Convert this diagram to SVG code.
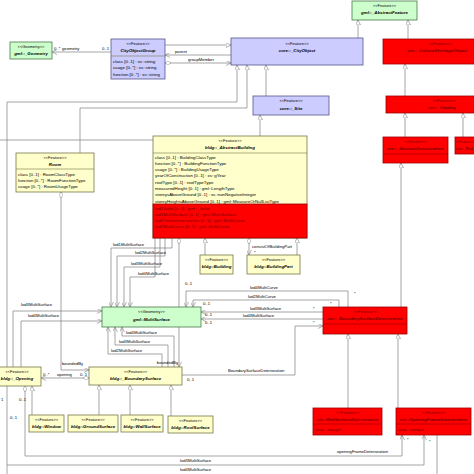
<svg xmlns="http://www.w3.org/2000/svg" width="474" height="474" viewBox="0 0 474 474">
<style>
.b{fill:#ccccff;stroke:#55558a;stroke-width:0.8}
.y{fill:#ffffcc;stroke:#77774a;stroke-width:0.8}
.g{fill:#ccffcc;stroke:#4a774a;stroke-width:0.8}
.r{fill:#ff0000;stroke:#990000;stroke-width:0.8}
.sep{stroke:#77774a;stroke-width:0.6}
.rsep{stroke:#990000;stroke-width:0.6}
text{font-family:"Liberation Sans",Arial,sans-serif}
.st{font-size:4px;text-anchor:middle;fill:#000}
.nm{font-size:4.4px;font-weight:bold;font-style:italic;text-anchor:middle;fill:#000}
.at{font-size:4.4px;fill:#000}
.rt{fill:#7a0000}
.lb{font-size:4.2px;fill:#000}
.ln{fill:none;stroke:#808080;stroke-width:0.7}
</style>
<defs>
<marker id="gen" viewBox="0 0 10 10" refX="10" refY="5" markerWidth="5" markerHeight="5" markerUnits="userSpaceOnUse" orient="auto"><path d="M0,0 L10,5 L0,10 Z" fill="#fff" stroke="#808080" stroke-width="1.2"/></marker>
<marker id="arr" viewBox="0 0 10 10" refX="10" refY="5" markerWidth="5" markerHeight="5" markerUnits="userSpaceOnUse" orient="auto"><path d="M0,0 L10,5 L0,10" fill="none" stroke="#808080" stroke-width="1.2"/></marker>
<marker id="dia" viewBox="0 0 12 8" refX="0" refY="4" markerWidth="6" markerHeight="4" markerUnits="userSpaceOnUse" orient="auto"><path d="M0,4 L6,0 L12,4 L6,8 Z" fill="#fff" stroke="#808080" stroke-width="1"/></marker>
</defs>

<g id="connectors">
<path class="ln" d="M358,38 V20" marker-end="url(#gen)"/>
<path class="ln" d="M408,39 V20" marker-end="url(#gen)"/>
<path class="ln" d="M405,96 V64" marker-end="url(#gen)"/>
<path class="ln" d="M405,137 V113" marker-end="url(#gen)"/>
<path class="ln" d="M463,137 V113" marker-end="url(#gen)"/>
<path class="ln" d="M401,307 V163" marker-end="url(#gen)"/>
<path class="ln" d="M348,408 V334" marker-end="url(#gen)"/>
<path class="ln" d="M398,408 V334" marker-end="url(#gen)"/>
<path class="ln" d="M266,96 V65" marker-end="url(#gen)"/>
<path class="ln" d="M260,136 V115" marker-end="url(#gen)"/>
<path class="ln" d="M7,367 V102 H237 V65" marker-end="url(#gen)"/>
<path class="ln" d="M80,153 V108 H247 V65" marker-end="url(#gen)"/>
<path class="ln" d="M205,255 V238" marker-end="url(#gen)"/>
<path class="ln" d="M297,255 V238" marker-end="url(#gen)"/>
<path class="ln" d="M32,415 V386" marker-end="url(#gen)"/>
<path class="ln" d="M99,415 V385" marker-end="url(#gen)"/>
<path class="ln" d="M130,415 V385" marker-end="url(#gen)"/>
<path class="ln" d="M171,416 V385" marker-end="url(#gen)"/>

<path class="ln" d="M111,52 H52" marker-end="url(#arr)"/>
<text class="lb" x="54" y="50">0..*</text>
<text class="lb" x="62" y="50">geometry</text>
<text class="lb" x="102" y="50">0..1</text>
<path class="ln" d="M165,45 H231" marker-end="url(#gen)"/>
<path class="ln" d="M231,55 H165" marker-end="url(#arr)"/>
<text class="lb" x="175" y="53">parent</text>
<path class="ln" d="M165,63 H231" marker-start="url(#dia)" marker-end="url(#arr)"/>
<text class="lb" x="188" y="61">groupMember</text>
<path class="ln" d="M0,140 H153"/>

<path class="ln" d="M172,238 V248 H111 V307" marker-end="url(#arr)"/>
<text class="lb" x="113" y="246">lod1MultiSurface</text>
<path class="ln" d="M165,238 V256 H117 V307" marker-end="url(#arr)"/>
<text class="lb" x="135" y="254">lod2MultiSurface</text>
<path class="ln" d="M160,238 V267 H124 V307" marker-end="url(#arr)"/>
<text class="lb" x="131" y="265">lod3MultiSurface</text>
<path class="ln" d="M155,238 V277 H130 V307" marker-end="url(#arr)"/>
<text class="lb" x="138" y="275">lod4MultiSurface</text>

<path class="ln" d="M174,367 V336 H122 V327" marker-end="url(#arr)"/>
<text class="lb" x="126" y="334">lod4MultiSurface</text>
<path class="ln" d="M168,367 V345 H115 V327" marker-end="url(#arr)"/>
<text class="lb" x="119" y="343">lod3MultiSurface</text>
<path class="ln" d="M162,367 V354 H108 V327" marker-end="url(#arr)"/>
<text class="lb" x="111" y="352">lod2MultiSurface</text>

<path class="ln" d="M13,367 V311 H102" marker-end="url(#arr)"/>
<text class="lb" x="21" y="306">lod3MultiSurface</text>
<path class="ln" d="M21,367 V321 H102" marker-end="url(#arr)"/>
<text class="lb" x="28" y="317">lod4MultiSurface</text>

<path class="ln" d="M61,192 V370 H89" marker-start="url(#dia)" marker-end="url(#arr)"/>
<text class="lb" x="62" y="365">boundedBy</text>
<path class="ln" d="M179,238 V367" marker-start="url(#dia)" marker-end="url(#arr)"/>
<text class="lb" x="178" y="364" text-anchor="end">boundedBy</text>
<path class="ln" d="M89,378 H41" marker-start="url(#dia)" marker-end="url(#arr)"/>
<text class="lb" x="43" y="376">0..*</text>
<text class="lb" x="57" y="376">opening</text>
<text class="lb" x="80" y="376">0..1</text>

<path class="ln" d="M249,238 V255" marker-start="url(#dia)" marker-end="url(#arr)"/>
<text class="lb" x="252" y="248">consistOfBuildingPart</text>
<text class="lb" x="254" y="254">*</text>

<path class="ln" d="M348,307 V291 H186 V307" marker-end="url(#arr)"/>
<text class="lb" x="250" y="289">lod4MultiCurve</text>
<text class="lb" x="185" y="285">0..1</text>
<text class="lb" x="354" y="295">*</text>
<path class="ln" d="M339,307 V300 H193 V307" marker-end="url(#arr)"/>
<text class="lb" x="248" y="298">lod2MultiCurve</text>
<text class="lb" x="203" y="305">0..1</text>
<text class="lb" x="330" y="305">*</text>
<path class="ln" d="M323,312 H201" marker-end="url(#arr)"/>
<text class="lb" x="250" y="310">lod3MultiSurface</text>
<text class="lb" x="313" y="310">*</text>
<text class="lb" x="205" y="316">0..1</text>
<path class="ln" d="M323,319 H201" marker-end="url(#arr)"/>
<text class="lb" x="243" y="317">lod4MultiSurface</text>
<text class="lb" x="205" y="324">0..1</text>
<path class="ln" d="M182,375 H295 V326 H323" marker-end="url(#arr)"/>
<text class="lb" x="228" y="372">BoundarySurfaceDeterioration</text>
<text class="lb" x="187" y="381">0..1</text>
<text class="lb" x="313" y="324">*</text>

<path class="ln" d="M25,386 V456 H402 V435" marker-start="url(#dia)" marker-end="url(#arr)"/>
<text class="lb" x="337" y="453">openingFrameDeterioration</text>
<text class="lb" x="407" y="441">*</text>
<text class="lb" x="19" y="401">0..1</text>
<path class="ln" d="M7,386 V465 H424 V435" marker-end="url(#arr)"/>
<text class="lb" x="180" y="462">lod3MultiSurface</text>
<text class="lb" x="429" y="443">*</text>
<path class="ln" d="M7,465 V474"/>
<path class="ln" d="M437,435 V474"/>
<text class="lb" x="180" y="471">lod4MultiSurface</text>
<text class="lb" x="10" y="419">0..1</text>
<text class="lb" x="1" y="401">1</text>
</g>

<g id="gml_Geometry">
<rect class="g" x="10" y="42" width="42" height="17"/>
<text class="st" x="31" y="48">&lt;&lt;Geometry&gt;&gt;</text>
<text class="nm" x="31" y="55">gml::_Geometry</text>
</g>

<g id="CityObjectGroup">
<rect class="b" x="111" y="39" width="54" height="40"/>
<line class="sep" x1="111" y1="56" x2="165" y2="56"/>
<text class="st" x="138" y="45">&lt;&lt;Feature&gt;&gt;</text>
<text class="nm" x="138" y="52">CityObjectGroup</text>
<text class="at" x="113" y="62.5">class [0..1] : xs::string</text>
<text class="at" x="113" y="69">usage [0..*] : xs::string</text>
<text class="at" x="113" y="75.5">function [0..*] : xs::string</text>
</g>

<g id="core_CityObject">
<rect class="b" x="231" y="38" width="132" height="27"/>
<text class="st" x="297" y="45">&lt;&lt;Feature&gt;&gt;</text>
<text class="nm" x="297" y="52">core::_CityObject</text>
</g>

<g id="gml_AbstractFeature">
<rect class="g" x="352" y="1" width="65" height="19"/>
<text class="st" x="384.5" y="7">&lt;&lt;Feature&gt;&gt;</text>
<text class="nm" x="384.5" y="14">gml::_AbstractFeature</text>
</g>

<g id="core_Site">
<rect class="b" x="253" y="96" width="76" height="19"/>
<text class="st" x="291" y="102">&lt;&lt;Feature&gt;&gt;</text>
<text class="nm" x="291" y="109.5">core::_Site</text>
</g>

<g id="ctx_CulturalHeritage">
<rect class="r" x="383" y="39" width="150" height="25"/>
<text class="st rt" x="440" y="45">&lt;&lt;Feature&gt;&gt;</text>
<text class="nm rt" x="437" y="52">ctx::_CulturalHeritageObject</text>
</g>

<g id="ctx_Catalog">
<rect class="r" x="386" y="96" width="120" height="17"/>
<text class="st rt" x="444" y="102">&lt;&lt;Feature&gt;&gt;</text>
<text class="nm rt" x="442" y="108.5">ctx::_Catalog</text>
</g>

<g id="ctx_AbstractDeterioration">
<rect class="r" x="383" y="137" width="65" height="26"/>
<line class="rsep" x1="383" y1="154" x2="448" y2="154"/>
<text class="st rt" x="415.5" y="143">&lt;&lt;Feature&gt;&gt;</text>
<text class="nm rt" x="415.5" y="149.5">ctx::_AbstractDeterioration</text>
</g>

<g id="ctx_Damage">
<rect class="r" x="455" y="137" width="40" height="17"/>
<text class="rt" x="464.5" y="143" font-size="3.2" text-anchor="middle">&lt;&lt;Feature&gt;&gt;</text>
<text class="rt" x="464.5" y="149.5" font-size="3.6" font-weight="bold" font-style="italic" text-anchor="middle">ctx::_Risk</text>
</g>

<g id="ctx_BoundarySurfaceDeterioration">
<rect class="r" x="323" y="307" width="84" height="27"/>
<line class="rsep" x1="323" y1="324" x2="407" y2="324"/>
<text class="st rt" x="365" y="313">&lt;&lt;Feature&gt;&gt;</text>
<text class="nm rt" x="365" y="320">ctx::_BoundarySurfaceDeterioration</text>
</g>

<g id="ctx_WallSurfaceDeterioration">
<rect class="r" x="313" y="408" width="69" height="27"/>
<line class="rsep" x1="313" y1="424" x2="382" y2="424"/>
<text class="st rt" x="347.5" y="414">&lt;&lt;Feature&gt;&gt;</text>
<text class="nm rt" x="347.5" y="420.5">ctx::WallSurfaceDeterioration</text>
<text class="at rt" x="315" y="430.5">area : integer</text>
</g>

<g id="ctx_OpeningFrameDeterioration">
<rect class="r" x="396" y="408" width="75" height="27"/>
<line class="rsep" x1="396" y1="424" x2="471" y2="424"/>
<text class="st rt" x="433.5" y="414">&lt;&lt;Feature&gt;&gt;</text>
<text class="nm rt" x="433.5" y="420.5">ctx::OpeningFrameDeterioration</text>
<text class="at rt" x="398" y="430.5">area : integer</text>
</g>

<g id="bldg_AbstractBuilding">
<rect class="y" x="153" y="136" width="154" height="102"/>
<rect class="r" x="153" y="204" width="154" height="34"/>
<line class="sep" x1="153" y1="153" x2="307" y2="153"/>
<text class="st" x="230" y="142">&lt;&lt;Feature&gt;&gt;</text>
<text class="nm" x="230" y="149">bldg::_AbstractBuilding</text>
<text class="at" x="155" y="158.5">class [0..1] : BuildingClassType</text>
<text class="at" x="155" y="164.8">function [0..*] : BuildingFunctionType</text>
<text class="at" x="155" y="171.1">usage [0..*] : BuildingUsageType</text>
<text class="at" x="155" y="177.4">yearOfConstruction [0..1] : xs::gYear</text>
<text class="at" x="155" y="183.7">roofType [0..1] : roofTypeType</text>
<text class="at" x="155" y="190">measuredHeight [0..1] : gml::LengthType</text>
<text class="at" x="155" y="196.3">storeysAboveGround [0..1] : xs::nonNegativeInteger</text>
<text class="at" x="155" y="202.6">storeyHeightsAboveGround [0..1] : gml::MeasureOrNullListType</text>
<text class="at rt" x="155" y="209.5">lod1Solid [0..1] : gml::_Solid</text>
<text class="at rt" x="155" y="215.5">lod1MultiSurface [0..1] : gml::MultiSurface</text>
<text class="at rt" x="155" y="221.5">lod1TerrainIntersection [0..1] : gml::MultiCurve</text>
<text class="at rt" x="155" y="227.5">lod2MultiCurve [0..1] : gml::MultiCurve</text>
</g>

<g id="Room">
<rect class="y" x="16" y="153" width="78" height="39"/>
<line class="sep" x1="16" y1="169" x2="94" y2="169"/>
<text class="st" x="55" y="159">&lt;&lt;Feature&gt;&gt;</text>
<text class="nm" x="55" y="166">Room</text>
<text class="at" x="18" y="175.5">class [0..1] : RoomClassType</text>
<text class="at" x="18" y="181.5">function [0..*] : RoomFunctionType</text>
<text class="at" x="18" y="187.5">usage [0..*] : RoomUsageType</text>
</g>

<g id="bldg_Building">
<rect class="y" x="200" y="255" width="33" height="19"/>
<text class="st" x="216.5" y="261">&lt;&lt;Feature&gt;&gt;</text>
<text class="nm" x="216.5" y="268">bldg::Building</text>
</g>

<g id="bldg_BuildingPart">
<rect class="y" x="247" y="255" width="53" height="19"/>
<text class="st" x="273.5" y="261">&lt;&lt;Feature&gt;&gt;</text>
<text class="nm" x="273.5" y="268">bldg::BuildingPart</text>
</g>

<g id="gml_MultiSurface">
<rect class="g" x="102" y="307" width="99" height="20"/>
<text class="st" x="151.5" y="313">&lt;&lt;Geometry&gt;&gt;</text>
<text class="nm" x="151.5" y="320.5">gml::MultiSurface</text>
</g>

<g id="bldg_Opening">
<rect class="y" x="-10" y="367" width="51" height="19"/>
<text class="st" x="17" y="373">&lt;&lt;Feature&gt;&gt;</text>
<text class="nm" x="17" y="380">bldg::_Opening</text>
</g>

<g id="bldg_BoundarySurface">
<rect class="y" x="89" y="367" width="93" height="18"/>
<text class="st" x="135.5" y="373">&lt;&lt;Feature&gt;&gt;</text>
<text class="nm" x="135.5" y="380">bldg::_BoundarySurface</text>
</g>

<g id="bldg_Window">
<rect class="y" x="29" y="415" width="35" height="17"/>
<text class="st" x="46.5" y="421">&lt;&lt;Feature&gt;&gt;</text>
<text class="nm" x="46.5" y="428">bldg::Window</text>
</g>

<g id="bldg_GroundSurface">
<rect class="y" x="68" y="415" width="50" height="17"/>
<text class="st" x="93" y="421">&lt;&lt;Feature&gt;&gt;</text>
<text class="nm" x="93" y="428">bldg::GroundSurface</text>
</g>

<g id="bldg_WallSurface">
<rect class="y" x="121" y="415" width="42" height="17"/>
<text class="st" x="142" y="421">&lt;&lt;Feature&gt;&gt;</text>
<text class="nm" x="142" y="428">bldg::WallSurface</text>
</g>

<g id="bldg_RoofSurface">
<rect class="y" x="168" y="416" width="45" height="17"/>
<text class="st" x="190.5" y="422">&lt;&lt;Feature&gt;&gt;</text>
<text class="nm" x="190.5" y="429">bldg::RoofSurface</text>
</g>
</svg>
